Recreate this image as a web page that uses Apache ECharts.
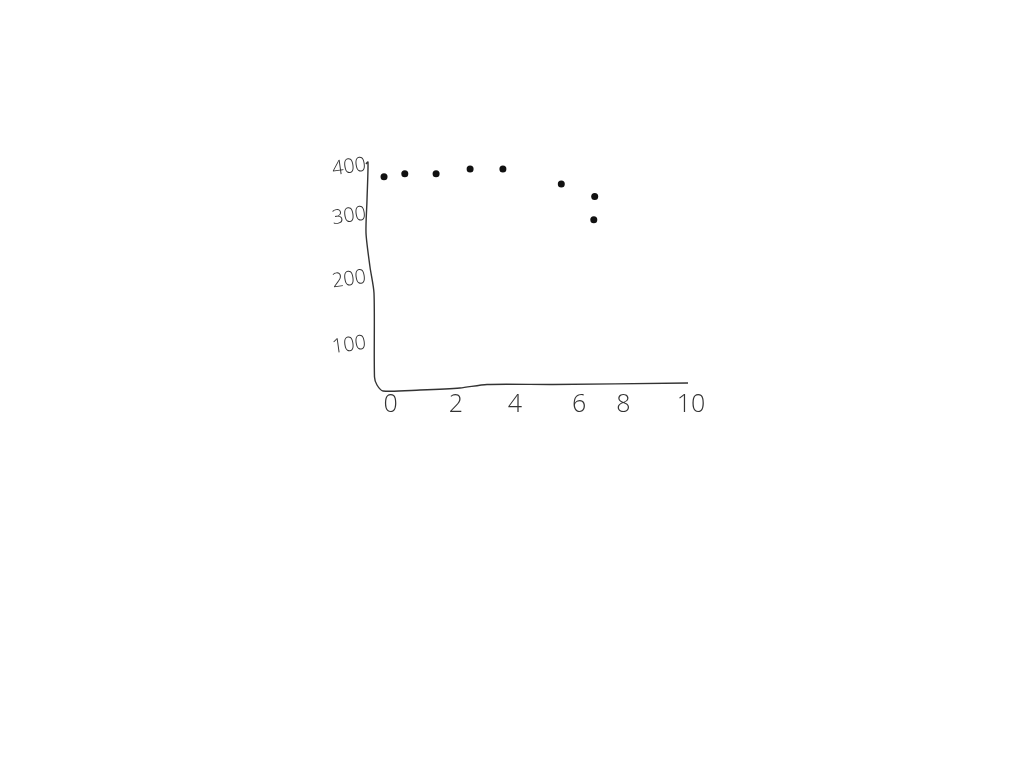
<!DOCTYPE html>
<html>
<head>
<meta charset="utf-8">
<script src="https://cdn.jsdelivr.net/npm/echarts@6/dist/echarts.min.js"></script>
<style>html,body{margin:0;padding:0;background:#fff}#c{width:1024px;height:768px}</style>
</head>
<body>
<div id="c"></div>
<script>
// Tick labels sit unevenly on the hand-drawn axes, so each label has its own spot.
const xTickSpots = [0.02, 2.19, 4.15, 6.28, 7.75, 10];
const yTickSpots = [99, 209, 315, 397];
const xValues = [-0.2, 0.49, 1.53, 2.66, 3.75, 5.69, 6.8, 6.77];
const yValues = [377, 382, 382, 390, 390, 365, 344, 305];

const chart = echarts.init(document.getElementById('c'));
chart.setOption({
  backgroundColor: '#ffffff',
  animation: false,
  grid: { left: 375, right: 333, top: 160, bottom: 378 },
  xAxis: {
    type: 'value', min: -0.5, max: 10, splitLine: { show: false },
    axisLine: { show: false },
    axisTick: { show: false },
    axisLabel: {
      customValues: xTickSpots,
      formatter: v => String(Math.round(v / 2) * 2),
      color: '#333', fontFamily: 'Open Sans', fontWeight: 300, fontSize: 25, margin: 2
    }
  },
  yAxis: {
    type: 'value', min: 20, max: 405, splitLine: { show: false },
    axisLine: { show: false },
    axisTick: { show: false },
    axisLabel: {
      customValues: yTickSpots,
      formatter: v => String(Math.round(v / 100) * 100),
      color: '#333', fontFamily: 'Open Sans', fontWeight: 300, fontSize: 20, margin: 9, rotate: 8
    }
  },
  graphic: [{
    type: 'polyline',
    silent: true,
    shape: {
      points: [[366, 164], [368, 162], [367, 200], [366, 233], [370, 267], [374, 293], [374.5, 377],
               [377, 385], [383, 391], [420, 390], [460, 388], [487, 384.5], [553, 384.5], [688, 383]],
      smooth: 0.25
    },
    style: { stroke: '#333', lineWidth: 1.4, fill: null }
  }],
  series: [{
    type: 'scatter',
    data: xValues.map((x, i) => [x, yValues[i]]),
    symbol: 'circle', symbolSize: 7,
    itemStyle: { color: '#111', opacity: 1 }
  }]
});
</script>
</body>
</html>
